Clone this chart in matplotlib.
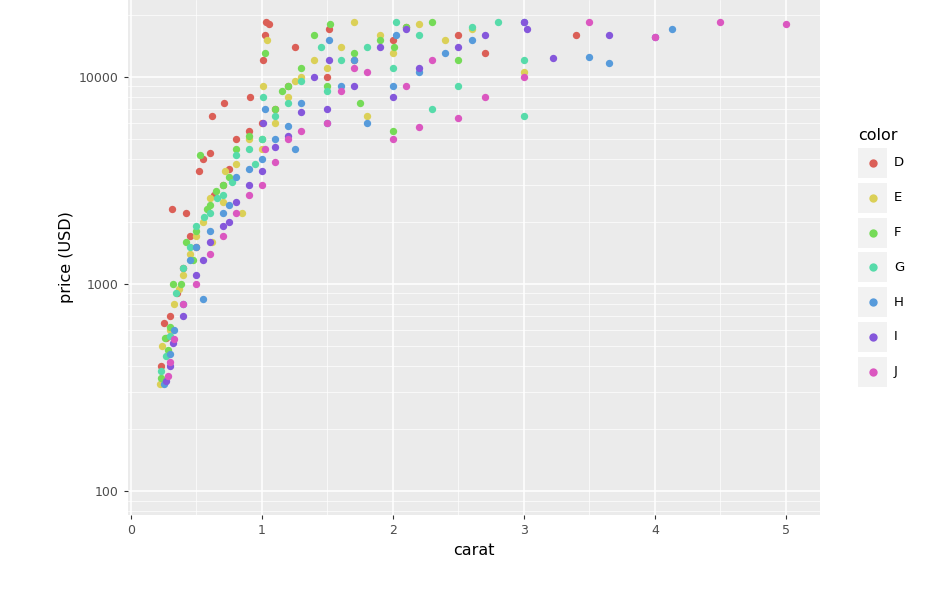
import matplotlib
matplotlib.use("Agg")
import matplotlib.pyplot as plt
import matplotlib.ticker as mt
from matplotlib.patches import Rectangle
from matplotlib.lines import Line2D
import colorsys

colors_names = ["D", "E", "F", "G", "H", "I", "J"]
carat = {
 "D": [0.23,0.25,0.3,0.31,0.35,0.4,0.42,0.5,0.52,0.55,0.6,0.62,0.7,0.71,0.75,0.8,0.9,0.91,1.0,1.01,1.02,1.03,1.05,1.1,1.2,1.25,1.5,1.51,1.7,2.0,2.1,2.5,2.7,3.4,0.63,0.27,0.45],
 "E": [0.22,0.24,0.3,0.33,0.4,0.45,0.5,0.55,0.6,0.7,0.72,0.8,0.9,1.0,1.01,1.04,1.1,1.2,1.3,1.4,1.5,1.6,1.7,1.9,2.0,2.2,2.4,2.6,3.0,0.37,0.62,0.85,1.25,1.8],
 "F": [0.23,0.26,0.3,0.32,0.38,0.42,0.5,0.53,0.6,0.65,0.7,0.75,0.8,0.9,1.0,1.02,1.1,1.2,1.3,1.5,1.52,1.7,1.9,2.0,2.01,2.1,2.3,2.5,0.28,0.47,0.58,1.15,1.4,1.75],
 "G": [0.23,0.27,0.3,0.34,0.4,0.45,0.5,0.56,0.6,0.7,0.77,0.8,0.9,1.0,1.01,1.1,1.2,1.3,1.5,1.6,1.8,2.0,2.02,2.2,2.3,2.5,2.6,2.8,3.0,3.0,1.45,0.95,0.66],
 "H": [0.25,0.3,0.33,0.4,0.45,0.5,0.6,0.7,0.75,0.8,0.9,1.0,1.02,1.1,1.2,1.3,1.5,1.6,1.7,1.8,2.0,2.02,2.2,2.4,2.6,3.0,3.5,3.65,4.13,1.51,0.55,1.25],
 "I": [0.27,0.3,0.32,0.4,0.5,0.55,0.6,0.7,0.8,0.9,1.0,1.01,1.1,1.2,1.3,1.5,1.51,1.7,1.9,2.0,2.1,2.2,2.5,2.7,3.0,3.02,3.22,3.65,4.0,1.4,0.75],
 "J": [0.28,0.3,0.33,0.4,0.5,0.6,0.7,0.8,0.9,1.0,1.02,1.1,1.2,1.3,1.5,1.6,1.8,2.0,2.1,2.3,2.5,2.7,3.0,3.5,4.0,4.5,5.0,1.7,2.2],
}
price = {
 "D": [400,650,700,2300,900,1200,2200,1500,3500,4000,4300,6500,3000,7500,3600,5000,5500,8000,6000,12000,16000,18500,18000,7000,9000,14000,10000,17000,12000,15000,17500,16000,13000,15900,2700,550,1700],
 "E": [330,500,600,800,1100,1400,1700,2000,2600,2500,3500,3800,5000,4500,9000,15000,6000,8000,10000,12000,11000,14000,18500,16000,13000,18000,15000,17000,10500,950,1600,2200,9500,6500],
 "F": [350,550,620,1000,1000,1600,1800,4200,2400,2800,3000,3300,4500,5200,5000,13000,7000,9000,11000,9000,18000,13000,15000,5500,14000,17500,18500,12000,480,1300,2300,8500,16000,7500],
 "G": [380,450,560,900,1200,1500,1900,2100,2200,2700,3100,4200,4500,5000,8000,6500,7500,9500,8500,12000,14000,11000,18500,16000,7000,9000,17500,18500,6500,12000,14000,3800,2600],
 "H": [330,460,600,800,1300,1500,1800,2200,2400,3300,3600,4000,7000,5000,5800,7500,6000,9000,12000,6000,9000,16000,10500,13000,15000,18500,12500,11700,17000,15000,850,4500],
 "I": [340,400,520,700,1100,1300,1600,1900,2500,3000,3500,6000,4600,5200,6800,7000,12000,9000,14000,8000,17000,11000,14000,16000,18500,17000,12300,16000,15500,10000,2000],
 "J": [360,420,540,800,1000,1400,1700,2200,2700,3000,4500,3900,5000,5500,6000,8500,10500,5000,9000,12000,6300,8000,10000,18500,15500,18500,18000,11000,5700],
}

pal = [colorsys.hls_to_rgb((0.01 + i / 7) % 1, 0.6, 0.65) for i in range(7)]

W, H = 939, 590
fig = plt.figure(figsize=(W / 100, H / 100), dpi=100)
ax = fig.add_axes([0.1363, 0.1271, 0.737, 0.8729])
ax.set_facecolor("#EBEBEB")
for name, c in zip(colors_names, pal):
    ax.scatter(carat[name], price[name], s=28, color=c, label=name, linewidths=0, zorder=3)
ax.set_yscale("log")
ax.set_xlim(-0.023, 5.26)
ax.set_ylim(76.6, 23500)
ax.set_xticks([0, 1, 2, 3, 4, 5])
ax.xaxis.set_minor_locator(mt.FixedLocator([0.5, 1.5, 2.5, 3.5, 4.5]))
ax.set_yticks([100, 1000, 10000])
ax.set_yticklabels(["100", "1000", "10000"])
ax.yaxis.set_minor_locator(mt.LogLocator(base=10, subs=range(2, 10)))
ax.yaxis.set_minor_formatter(mt.NullFormatter())
ax.grid(which="major", color="white", lw=1.1, zorder=0)
ax.grid(which="minor", color="white", lw=0.5, zorder=0)
for s in ax.spines.values():
    s.set_visible(False)
ax.tick_params(which="major", colors="#333333", labelcolor="#4D4D4D", labelsize=9, length=3)
ax.tick_params(which="minor", length=0)
ax.set_xlabel("carat", fontsize=11.5)
ax.set_ylabel("price (USD)", fontsize=11.5)

# manual legend (pixel layout)
fig.text(858 / W, 1 - 135 / H, "color", fontsize=11.5, va="center", ha="left")
for i, (name, c) in enumerate(zip(colors_names, pal)):
    cy = 163 + i * 34.8
    fig.add_artist(Rectangle((858 / W, 1 - (cy + 15) / H), 29 / W, 30 / H,
                             transform=fig.transFigure, facecolor="#F2F2F2", edgecolor="none"))
    fig.add_artist(Line2D([872.5 / W], [1 - cy / H], marker="o", markersize=6, color=c,
                          markeredgewidth=0, linestyle="none", transform=fig.transFigure))
    fig.text(894 / W, 1 - cy / H, name, fontsize=9.5, va="center", ha="left")
fig.savefig("out.png", dpi=100)
